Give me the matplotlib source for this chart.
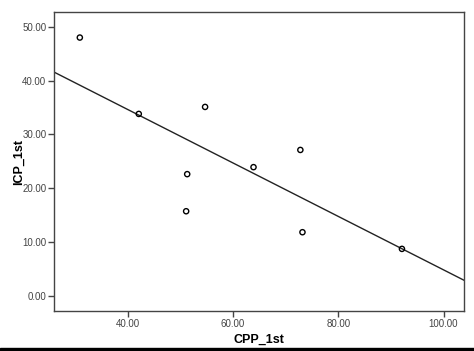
import numpy as np
import matplotlib
matplotlib.use("Agg")
import matplotlib.pyplot as plt
from matplotlib.patches import Rectangle

# values
cpp_1st = [30.9, 42.1, 54.7, 51.3, 51.1, 63.9, 72.8, 73.2, 92.1]
icp_1st = [48.0, 33.8, 35.1, 22.6, 15.7, 23.9, 27.1, 11.8, 8.7]

# fit line as drawn in the picture
fit_intercept = 54.5
fit_slope = -0.497

x_ticks = [40, 60, 80, 100]
y_ticks = [0, 10, 20, 30, 40, 50]

plt.rcParams['font.family'] = ['Liberation Sans', 'DejaVu Sans']

fig = plt.figure(figsize=(4.74, 3.51), dpi=100)
ax = fig.add_axes([0.114, 0.114, 0.865, 0.851])

ax.scatter(cpp_1st, icp_1st, s=14, facecolors='none', edgecolors='black', linewidths=1.0, zorder=3)

xlim = (26.0, 103.9)
xs = np.array(xlim)
ax.plot(xs, fit_slope * xs + fit_intercept, color='#222222', lw=1.0)

ax.set_xlim(*xlim)
ax.set_ylim(-2.85, 52.7)
ax.set_xticks(x_ticks)
ax.set_yticks(y_ticks)
ax.set_xticklabels([f"{v:.2f}" for v in x_ticks])
ax.set_yticklabels([f"{v:.2f}" for v in y_ticks])
ax.tick_params(direction='out', length=4, width=1, color='#444444',
               labelsize=7, labelcolor='#444444', pad=1.5)

for sp in ax.spines.values():
    sp.set_color('#444444')
    sp.set_linewidth(1.0)

ax.set_xlabel('CPP_1st', fontsize=9, fontweight='bold', labelpad=4)
ax.set_ylabel('ICP_1st', fontsize=9, fontweight='bold')
ax.yaxis.set_label_coords(-0.072, 0.5)

# black band at the bottom edge
fig.patches.append(Rectangle((0, 0), 1, 3 / 351, transform=fig.transFigure,
                             color='black', zorder=10))

fig.savefig('out.png', dpi=100)
